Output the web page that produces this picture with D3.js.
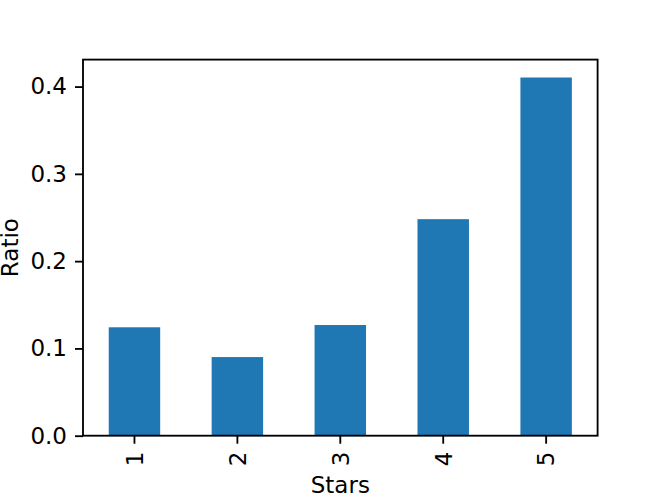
<!DOCTYPE html>
<html>
<head>
<meta charset="utf-8">
<script src="https://cdn.jsdelivr.net/npm/d3@7"></script>
<style>
    html, body { margin: 0; padding: 0; background: #fff; }
    text { font-family: "DejaVu Sans", sans-serif; fill: #000; }
</style>
</head>
<body>
<div id="chart"></div>
<script>
// Data
const stars = ['1', '2', '3', '4', '5'];
const ratios = [0.1242, 0.0901, 0.1268, 0.2481, 0.4104];
const yTicks = [0.0, 0.1, 0.2, 0.3, 0.4];

const width = 664;
const height = 498;
const margin = { top: 59.6, right: 66.4, bottom: 62.3, left: 83 };
const innerW = width - margin.left - margin.right;
const innerH = height - margin.top - margin.bottom;
const fontSize = 23;
const tickLen = 8;
const tickPad = 8;
const lineW = 1.84;

const svg = d3.select('#chart')
    .append('svg')
    .attr('width', width)
    .attr('height', height);

const g = svg.append('g')
    .attr('transform', `translate(${margin.left}, ${margin.top})`);

// Scales: matplotlib bar with width 0.5 and xlim [-0.5, n-0.5]
const x = d3.scaleBand()
    .domain(stars)
    .range([0, innerW])
    .paddingInner(0.5)
    .paddingOuter(0.25);

const y = d3.scaleLinear()
    .domain([0, d3.max(ratios) * 1.05])
    .range([innerH, 0]);

// Bars
g.selectAll('rect.bar')
    .data(stars)
    .enter()
    .append('rect')
    .attr('class', 'bar')
    .attr('x', d => x(d))
    .attr('y', (d, i) => y(ratios[i]))
    .attr('width', x.bandwidth())
    .attr('height', (d, i) => innerH - y(ratios[i]))
    .attr('fill', '#1f77b4');

// Y axis
const yAxis = g.append('g')
    .call(d3.axisLeft(y)
        .tickValues(yTicks)
        .tickFormat(d3.format('.1f'))
        .tickSize(tickLen)
        .tickPadding(tickPad));

// X axis
const xAxis = g.append('g')
    .attr('transform', `translate(0, ${innerH})`)
    .call(d3.axisBottom(x).tickSize(tickLen).tickPadding(tickPad));

[xAxis, yAxis].forEach(ax => {
    ax.select('.domain').remove();
    ax.selectAll('line').attr('stroke', '#000').attr('stroke-width', lineW);
    ax.selectAll('text')
        .style('font-size', fontSize + 'px')
        .style('font-family', '"DejaVu Sans", sans-serif')
        .attr('fill', '#000');
});

// Rotated x tick labels
xAxis.selectAll('text')
    .attr('text-anchor', 'end')
    .attr('transform', `translate(0, ${tickLen + tickPad}) rotate(-90)`)
    .attr('x', 0)
    .attr('y', 0)
    .attr('dy', '0.36em');

// Frame
g.append('rect')
    .attr('x', 0)
    .attr('y', 0)
    .attr('width', innerW)
    .attr('height', innerH)
    .attr('fill', 'none')
    .attr('stroke', '#000')
    .attr('stroke-width', lineW);

// Axis labels
svg.append('text')
    .attr('x', margin.left + innerW / 2)
    .attr('y', 493)
    .attr('text-anchor', 'middle')
    .style('font-size', fontSize + 'px')
    .text('Stars');

svg.append('text')
    .attr('transform', `translate(18, ${margin.top + innerH / 2}) rotate(-90)`)
    .attr('text-anchor', 'middle')
    .style('font-size', fontSize + 'px')
    .text('Ratio');
</script>
</body>
</html>
